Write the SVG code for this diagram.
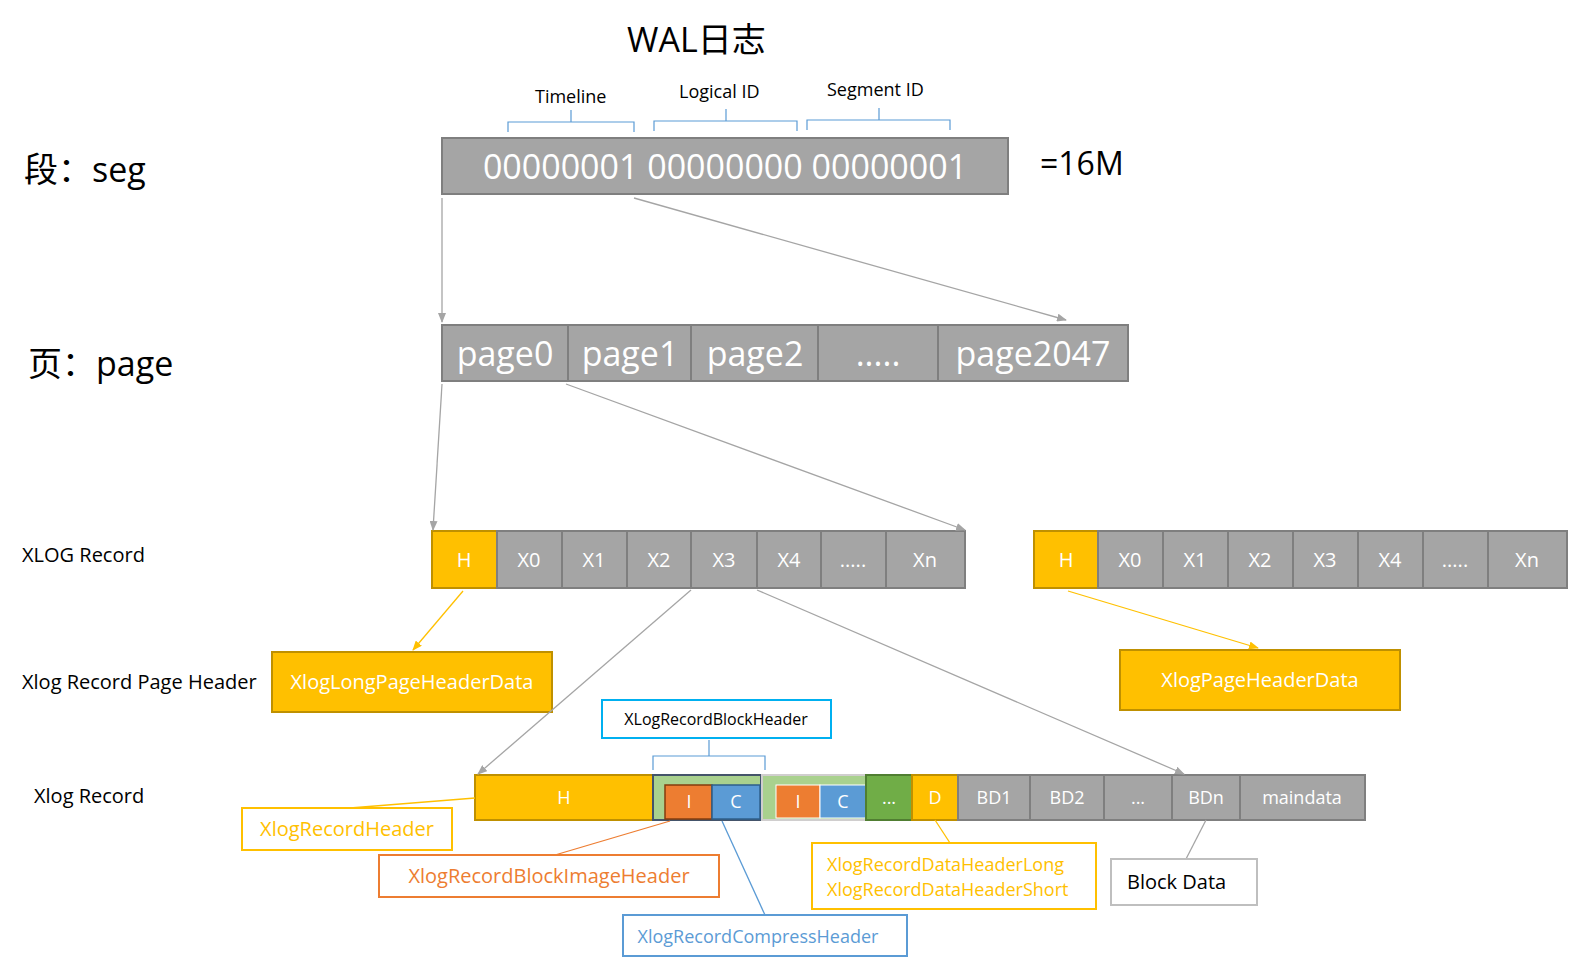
<svg xmlns="http://www.w3.org/2000/svg" width="1577" height="968" viewBox="0 0 1577 968">
<style>
text{font-family:"Open Sans","Noto Sans CJK SC",sans-serif}
.g{fill:#A5A5A5;stroke:#7F7F7F;stroke-width:2}
.y{fill:#FFC000;stroke:#BF9000;stroke-width:2}
.o{fill:#ED7D31;stroke:#fff;stroke-width:1}
.b{fill:#5B9BD5;stroke:#fff;stroke-width:1}
.w{fill:#fff;text-anchor:middle}
.br{fill:none;stroke:#5B9BD5;stroke-width:1.2}
.ln{stroke:#A5A5A5;stroke-width:1.3;fill:none}
</style>
<defs><marker id="a" markerWidth="10" markerHeight="8" refX="9" refY="4" orient="auto" markerUnits="userSpaceOnUse"><path d="M0,0L10,4L0,8z" fill="#A5A5A5"/></marker>
<marker id="ay" markerWidth="10" markerHeight="8" refX="9" refY="4" orient="auto" markerUnits="userSpaceOnUse"><path d="M0,0L10,4L0,8z" fill="#FFC000"/></marker></defs>
<rect width="1577" height="968" fill="#fff"/>
<text x="627" y="52" font-size="34">WAL日志</text>
<text x="24" y="182" font-size="34">段：seg</text>
<text x="28" y="376" font-size="34">页：page</text>
<text x="22" y="562" font-size="20">XLOG Record</text>
<text x="22" y="689" font-size="20">Xlog Record Page Header</text>
<text x="34" y="803" font-size="20">Xlog Record</text>
<text x="535" y="103" font-size="18">Timeline</text>
<text x="679" y="98" font-size="18">Logical ID</text>
<text x="827" y="96" font-size="18">Segment ID</text>
<path class="br" d="M508,132V122H571V110M571,122H634V132"/>
<path class="br" d="M654,131V121H726V109M726,121H797V131"/>
<path class="br" d="M807,130V120H879V108M879,120H950V130"/>
<g id="seg"><rect class="g" x="442" y="138" width="566" height="56"/><text class="w" x="725" y="179" font-size="34">00000001 00000000 00000001</text></g>
<text x="1040" y="175" font-size="32">=16M</text>
<g id="pages" font-size="34">
<rect class="g" x="442" y="325" width="126" height="56"/><text class="w" x="505" y="366">page0</text>
<rect class="g" x="568" y="325" width="123" height="56"/><text class="w" x="630" y="366">page1</text>
<rect class="g" x="691" y="325" width="127" height="56"/><text class="w" x="755" y="366">page2</text>
<rect class="g" x="818" y="325" width="120" height="56"/><text class="w" x="878" y="366">.....</text>
<rect class="g" x="938" y="325" width="190" height="56"/><text class="w" x="1033" y="366">page2047</text>
</g>
<g id="xlog1" font-size="20">
<rect class="y" x="432" y="531" width="65" height="57"/><text class="w" x="464" y="567">H</text>
<rect class="g" x="497" y="531" width="65" height="57"/><text class="w" x="529" y="567">X0</text>
<rect class="g" x="562" y="531" width="65" height="57"/><text class="w" x="594" y="567">X1</text>
<rect class="g" x="627" y="531" width="64" height="57"/><text class="w" x="659" y="567">X2</text>
<rect class="g" x="691" y="531" width="66" height="57"/><text class="w" x="724" y="567">X3</text>
<rect class="g" x="757" y="531" width="64" height="57"/><text class="w" x="789" y="567">X4</text>
<rect class="g" x="821" y="531" width="65" height="57"/><text class="w" x="853" y="567">.....</text>
<rect class="g" x="886" y="531" width="79" height="57"/><text class="w" x="925" y="567">Xn</text>
</g>
<g id="xlog2" font-size="20">
<rect class="y" x="1034" y="531" width="64" height="57"/><text class="w" x="1066" y="567">H</text>
<rect class="g" x="1098" y="531" width="65" height="57"/><text class="w" x="1130" y="567">X0</text>
<rect class="g" x="1163" y="531" width="65" height="57"/><text class="w" x="1195" y="567">X1</text>
<rect class="g" x="1228" y="531" width="65" height="57"/><text class="w" x="1260" y="567">X2</text>
<rect class="g" x="1293" y="531" width="65" height="57"/><text class="w" x="1325" y="567">X3</text>
<rect class="g" x="1358" y="531" width="65" height="57"/><text class="w" x="1390" y="567">X4</text>
<rect class="g" x="1423" y="531" width="65" height="57"/><text class="w" x="1455" y="567">.....</text>
<rect class="g" x="1488" y="531" width="79" height="57"/><text class="w" x="1527" y="567">Xn</text>
</g>
<g id="longph"><rect class="y" x="272" y="652" width="280" height="60"/><text class="w" x="412" y="689" font-size="20">XlogLongPageHeaderData</text></g>
<g id="ph"><rect class="y" x="1120" y="650" width="280" height="60"/><text class="w" x="1260" y="687" font-size="20">XlogPageHeaderData</text></g>
<g id="bhdr"><rect x="602" y="700" width="229" height="38" fill="#fff" stroke="#00B0F0" stroke-width="2"/><text x="716" y="725" font-size="16" text-anchor="middle">XLogRecordBlockHeader</text></g>
<path class="br" d="M653,770V756H709V740M709,756H765V770"/>
<g id="record" font-size="18">
<rect class="y" x="475" y="775" width="178" height="45"/><text class="w" x="564" y="804">H</text>
<rect x="653" y="775" width="108" height="45" fill="#A9D18E" stroke="#44546A" stroke-width="2"/>
<rect x="665" y="785" width="47" height="34" fill="#ED7D31" stroke="#843C0C" stroke-width="1.5"/><text class="w" x="689" y="808">I</text>
<rect x="712" y="785" width="48" height="34" fill="#5B9BD5" stroke="#2E5F8A" stroke-width="1.5"/><text class="w" x="736" y="808">C</text>
<rect x="762" y="775" width="104" height="45" fill="#A9D18E" stroke="#D0CECE" stroke-width="2"/>
<rect x="776" y="785" width="44" height="33" class="o"/><text class="w" x="798" y="808">I</text>
<rect x="820" y="785" width="46" height="33" class="b"/><text class="w" x="843" y="808">C</text>
<rect x="866" y="775" width="46" height="45" fill="#70AD47" stroke="#507E32" stroke-width="2"/><text class="w" x="889" y="804">...</text>
<rect class="y" x="912" y="775" width="46" height="45"/><text class="w" x="935" y="804">D</text>
<rect class="g" x="958" y="775" width="72" height="45"/><text class="w" x="994" y="804">BD1</text>
<rect class="g" x="1030" y="775" width="74" height="45"/><text class="w" x="1067" y="804">BD2</text>
<rect class="g" x="1104" y="775" width="68" height="45"/><text class="w" x="1138" y="804">...</text>
<rect class="g" x="1172" y="775" width="68" height="45"/><text class="w" x="1206" y="804">BDn</text>
<rect class="g" x="1240" y="775" width="125" height="45"/><text class="w" x="1302" y="804">maindata</text>
</g>
<g id="connectors">
<path class="ln" d="M442,198V322" marker-end="url(#a)"/>
<path class="ln" d="M634,198L1066,320" marker-end="url(#a)"/>
<path class="ln" d="M442,384L433,530" marker-end="url(#a)"/>
<path class="ln" d="M566,384L965,530" marker-end="url(#a)"/>
<path d="M463,591L413,650" stroke="#FFC000" stroke-width="1.3" marker-end="url(#ay)"/>
<path d="M1068,591L1258,648" stroke="#FFC000" stroke-width="1.3" marker-end="url(#ay)"/>
<path class="ln" d="M691,590L478,774" marker-end="url(#a)"/>
<path class="ln" d="M757,590L1184,774" marker-end="url(#a)"/>
<path d="M475,798L350,808" stroke="#FFC000" stroke-width="1.3"/>
<path d="M670,821L555,855" stroke="#ED7D31" stroke-width="1.3"/>
<path d="M722,821L765,915" stroke="#5B9BD5" stroke-width="1.3"/>
<path d="M935,820L950,843" stroke="#FFC000" stroke-width="1.3"/>
<path d="M1206,820L1186,859" stroke="#A5A5A5" stroke-width="1.3"/>
</g>
<g id="rh"><rect x="242" y="808" width="210" height="42" fill="#fff" stroke="#FFC000" stroke-width="2"/><text x="347" y="836" font-size="20" fill="#FFC000" text-anchor="middle">XlogRecordHeader</text></g>
<g id="bih"><rect x="379" y="855" width="340" height="42" fill="#fff" stroke="#ED7D31" stroke-width="2"/><text x="549" y="883" font-size="20" fill="#ED7D31" text-anchor="middle">XlogRecordBlockImageHeader</text></g>
<g id="ch"><rect x="623" y="915" width="284" height="41" fill="#fff" stroke="#5B9BD5" stroke-width="2"/><text x="758" y="943" font-size="18" fill="#5B9BD5" text-anchor="middle">XlogRecordCompressHeader</text></g>
<g id="dh"><rect x="812" y="843" width="284" height="66" fill="#fff" stroke="#FFC000" stroke-width="2"/><text x="827" y="871" font-size="18" fill="#FFC000">XlogRecordDataHeaderLong</text><text x="827" y="896" font-size="18" fill="#FFC000">XlogRecordDataHeaderShort</text></g>
<g id="bd"><rect x="1111" y="859" width="146" height="46" fill="#fff" stroke="#BFBFBF" stroke-width="2"/><text x="1127" y="889" font-size="20">Block Data</text></g>
</svg>
